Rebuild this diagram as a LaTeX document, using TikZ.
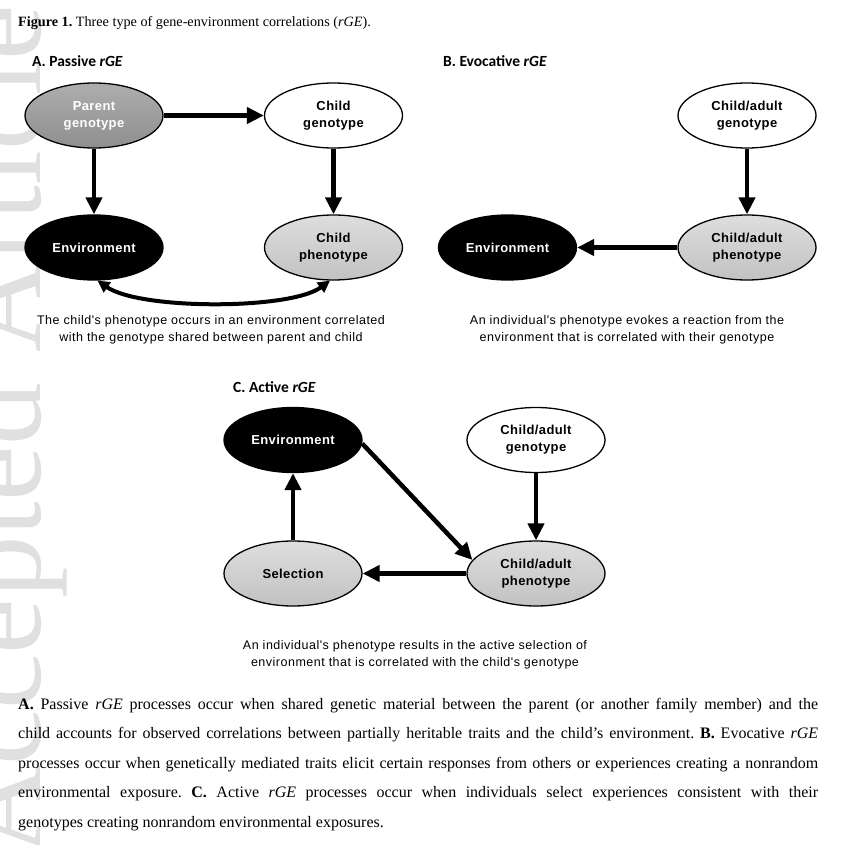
\documentclass[tikz,border=0pt]{standalone}
\usepackage{fontspec}
\setmainfont{Liberation Serif}
\newfontfamily\nodefont[LetterSpace=3]{Liberation Sans}
\newfontfamily\capsans[LetterSpace=4]{Liberation Sans}
\newfontfamily\headfont{Carlito}
\usetikzlibrary{shapes.geometric,arrows.meta}
\frenchspacing
\begin{document}
\begin{tikzpicture}[x=1pt,y=-1pt,
  ell/.style={ellipse, draw, line width=1.3pt, minimum width=138pt, minimum height=65pt,
    inner sep=0pt, align=center, font=\nodefont\bfseries\fontsize{13}{17}\selectfont},
  darkell/.style={ell, fill=black, text=white},
  midell/.style={ell, top color=black!32, bottom color=black!44, text=white},
  lightell/.style={ell, top color=black!13, bottom color=black!24},
  whiteell/.style={ell, fill=white},
  bigarrow/.style={line width=4.5pt, -{Triangle[length=17pt,width=16pt]}},
  curvearrow/.style={line width=4pt, {Triangle[length=12pt,width=12pt]}-{Triangle[length=12pt,width=12pt]}},
  heading/.style={anchor=base west, inner sep=0pt, font=\headfont\bfseries\fontsize{15.5}{18}\selectfont},
  subcap/.style={align=center, inner sep=0pt, font=\capsans\fontsize{12.5}{17}\selectfont},
  watermark/.style={rotate=90, inner sep=0pt, text=black!12, font=\fontsize{125}{125}\selectfont}
]
\useasboundingbox (0,0) rectangle (840,845);
\clip (0,0) rectangle (840,845);
\fill[white] (0,0) rectangle (840,845);

% watermark
\node[watermark, anchor=base east] (wm) at (40,5) {Accepted Article};

% title
\node[anchor=base west, inner sep=0pt, font=\fontsize{14.2}{17}\selectfont] (title) at (18,27)
  {\textbf{Figure 1.} Three type of gene-environment correlations (\textit{rGE}).};

% ---------------- A ----------------
\node[heading] (hA) at (32,67) {A. Passive \textit{rGE}};
\node[midell] (parA) at (94,115.5) {Parent\\genotype};
\node[whiteell] (cgA) at (333.5,115.5) {Child\\genotype};
\node[darkell] (envA) at (94,247.5) {Environment};
\node[lightell] (cpA) at (333.5,247.5) {Child\\phenotype};
\draw[bigarrow] (parA) -- (cgA);
\draw[bigarrow] (parA) -- (envA);
\draw[bigarrow] (cgA) -- (cpA);
\draw[curvearrow] (envA.-84) .. controls (140,310) and (290,310) .. (cpA.-96);
\node[subcap, anchor=north] (capA) at (211,315)
  {The child's phenotype occurs in an environment correlated\\with the genotype shared between parent and child};

% ---------------- B ----------------
\node[heading] (hB) at (443,67) {B. Evocative \textit{rGE}};
\node[whiteell] (cgB) at (747,115.5) {Child/adult\\genotype};
\node[lightell] (cpB) at (747,247.5) {Child/adult\\phenotype};
\node[darkell] (envB) at (507.5,247.5) {Environment};
\draw[bigarrow] (cgB) -- (cpB);
\draw[bigarrow] (cpB) -- (envB);
\node[subcap, anchor=north] (capB) at (627,315)
  {An individual's phenotype evokes a reaction from the\\environment that is correlated with their genotype};

% ---------------- C ----------------
\node[heading] (hC) at (233,392) {C. Active \textit{rGE}};
\node[darkell] (envC) at (293,440) {Environment};
\node[whiteell] (cgC) at (536,440) {Child/adult\\genotype};
\node[lightell] (selC) at (293,573.5) {Selection};
\node[lightell] (cpC) at (536,573.5) {Child/adult\\phenotype};
\draw[bigarrow] (selC) -- (envC);
\draw[bigarrow] (cgC) -- (cpC);
\draw[bigarrow] (cpC) -- (selC);
\draw[bigarrow] (envC.-3) -- (cpC.168);
\node[subcap, anchor=north] (capC) at (415,640)
  {An individual's phenotype results in the active selection of\\environment that is correlated with the child's genotype};

% ---------------- caption ----------------
\node[anchor=base west, inner sep=0pt, align=left, font=\fontsize{16}{29.5}\selectfont] (cap) at (18,827)
  {\makebox[800pt][s]{\textbf{A.} Passive \textit{rGE} processes occur when shared genetic material between the parent (or another family member) and the}\\
   \makebox[800pt][s]{child accounts for observed correlations between partially heritable traits and the child’s environment. \textbf{B.} Evocative \textit{rGE}}\\
   \makebox[800pt][s]{processes occur when genetically mediated traits elicit certain responses from others or experiences creating a nonrandom}\\
   \makebox[800pt][s]{environmental exposure. \textbf{C.} Active \textit{rGE} processes occur when individuals select experiences consistent with their}\\
   genotypes creating nonrandom environmental exposures.};
\end{tikzpicture}
\end{document}
